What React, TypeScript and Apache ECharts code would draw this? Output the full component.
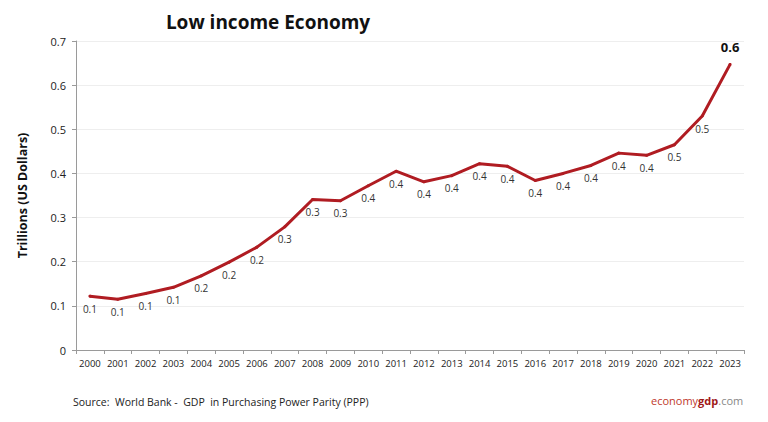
import React, { useEffect, useRef } from "react";
import * as echarts from "echarts";

const years = [
  "2000", "2001", "2002", "2003", "2004", "2005", "2006", "2007", "2008", "2009", "2010", "2011",
  "2012", "2013", "2014", "2015", "2016", "2017", "2018", "2019", "2020", "2021", "2022", "2023",
];

// GDP (PPP), trillions of US dollars
const gdpTrillions = [
  0.122, 0.115, 0.128, 0.142, 0.168, 0.199, 0.233, 0.279, 0.341, 0.338, 0.372, 0.405,
  0.381, 0.395, 0.422, 0.416, 0.384, 0.4, 0.418, 0.446, 0.441, 0.465, 0.53, 0.647,
];

const yTicks = [0, 0.1, 0.2, 0.3, 0.4, 0.5, 0.6, 0.7];

const FONT = "'Open Sans', 'DejaVu Sans', sans-serif";
const LINE_RED = "#b01c22";

export default function App() {
  const ref = useRef<HTMLDivElement>(null);

  useEffect(() => {
    document.body.style.margin = "0";
    if (!ref.current) return;
    const chart = echarts.init(ref.current, null, { renderer: "svg" });
    const last = gdpTrillions.length - 1;

    chart.setOption({
      animation: false,
      backgroundColor: "#ffffff",
      textStyle: { fontFamily: FONT },
      title: {
        text: "Low income Economy",
        left: 263,
        top: 7,
        textAlign: "center",
        textStyle: { fontSize: 19, fontWeight: "bold", color: "#111", fontFamily: FONT },
      },
      grid: { left: 76, right: 24, top: 41, bottom: 72, containLabel: false },
      xAxis: {
        type: "category",
        data: years,
        boundaryGap: true,
        axisLine: { lineStyle: { color: "#9a9a9a", width: 1 } },
        axisTick: { show: true, alignWithLabel: false, length: 4, lineStyle: { color: "#9a9a9a" } },
        axisLabel: { color: "#222", fontSize: 9.5, margin: 8, interval: 0, fontFamily: FONT },
        splitLine: { show: false },
      },
      yAxis: {
        type: "value",
        min: yTicks[0],
        max: yTicks[yTicks.length - 1],
        interval: 0.1,
        name: "Trillions (US Dollars)",
        nameLocation: "middle",
        nameGap: 47,
        nameTextStyle: { fontSize: 12.5, fontWeight: "bold", color: "#111", fontFamily: FONT },
        axisLine: { show: true, lineStyle: { color: "#9a9a9a", width: 1 } },
        axisTick: { show: true, length: 4, lineStyle: { color: "#9a9a9a" } },
        axisLabel: {
          color: "#222",
          fontSize: 11,
          margin: 10,
          fontFamily: FONT,
          formatter: (v: number) => (v === 0 ? "0" : v.toFixed(1)),
        },
        splitLine: { show: true, lineStyle: { color: "#eeeeee", width: 1 } },
      },
      series: [
        {
          type: "line",
          data: gdpTrillions.map((v, i) =>
            i === last
              ? {
                  value: v,
                  label: {
                    position: "top",
                    distance: 9,
                    fontSize: 13,
                    fontWeight: "bold",
                    color: "#111",
                  },
                }
              : v
          ),
          symbol: "circle",
          symbolSize: 3,
          lineStyle: { color: LINE_RED, width: 3 },
          itemStyle: { color: LINE_RED },
          label: {
            show: true,
            position: "bottom",
            distance: 6,
            fontSize: 10,
            color: "#333",
            fontFamily: FONT,
            formatter: (p: any) => Number(p.value).toFixed(1),
          },
        },
      ],
      graphic: [
        {
          type: "text",
          left: 73,
          top: 396,
          style: {
            text: "Source:  World Bank -  GDP  in Purchasing Power Parity (PPP)",
            fontSize: 10.5,
            fill: "#222",
            fontFamily: FONT,
          },
        },
        {
          type: "text",
          left: 651,
          top: 395,
          style: {
            rich: {
              a: { fontSize: 11, fill: "#c0392b", fontFamily: FONT },
              b: { fontSize: 11, fill: "#a01818", fontWeight: "bold", fontFamily: FONT },
              c: { fontSize: 11, fill: "#888888", fontFamily: FONT },
            },
            text: "{a|economy}{b|gdp}{c|.com}",
          },
        },
      ],
    });

    return () => chart.dispose();
  }, []);

  return <div ref={ref} style={{ width: 768, height: 422 }} />;
}
